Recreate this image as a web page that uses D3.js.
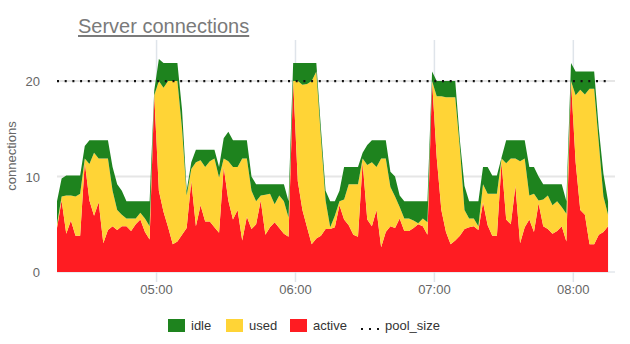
<!DOCTYPE html>
<html><head><meta charset="utf-8">
<script src="https://cdn.jsdelivr.net/npm/d3@7"></script>
<style>body{margin:0;background:#fff}svg{display:block}</style>
</head><body><svg id="c" width="630" height="344"></svg>
<script>
// ---- data ----
const startTime = "04:17";
const stepMinutes = 2;
const xDomain = ["04:17", "08:18"];
const active = [4.6,7.5,4.0,5.4,3.8,3.8,11.5,7.5,5.9,7.3,3.0,4.4,4.8,4.4,4.8,4.8,4.3,5.0,5.5,4.2,
  3.4,18.5,8.5,6.3,4.7,2.9,3.2,3.9,4.6,9.5,4.8,7.0,5.3,5.3,4.7,4.1,11.0,7.5,5.5,6.5,
  3.3,5.8,4.5,5.0,7.5,3.9,4.7,5.2,4.6,4.0,3.7,20.0,9.5,6.5,4.7,2.9,3.5,3.8,4.5,4.5,
  4.7,7.0,5.5,4.9,3.9,3.7,11.5,5.5,4.8,6.5,2.6,4.2,4.8,4.6,5.6,4.3,4.3,4.6,5.0,4.8,
  3.9,20.0,12.0,6.5,4.2,2.9,3.3,3.8,4.5,4.7,4.8,4.4,7.3,4.9,3.8,3.8,11.5,5.5,5.0,9.0,
  3.0,4.7,5.5,4.2,7.2,4.8,4.5,4.0,4.3,4.8,3.2,20.0,11.5,6.5,6.0,2.9,2.9,3.9,4.2,4.8];
const used = [0.4,0.4,4.0,2.6,4.1,4.4,0.4,3.8,6.6,4.6,8.9,7.5,3.7,2.1,1.2,0.8,1.3,0.6,0.7,1.4,
  1.4,0.0,11.5,13.0,15.3,17.1,16.8,11.1,3.4,1.3,6.7,4.7,5.7,6.3,7.2,5.8,0.9,4.1,5.5,4.5,
  8.6,6.1,4.0,2.4,0.5,4.2,3.5,1.9,3.4,3.4,2.0,0.0,10.5,13.1,15.0,17.1,17.5,10.2,3.0,0.2,
  1.2,0.4,2.1,4.3,5.3,5.5,0.4,5.7,6.7,4.5,9.3,7.7,4.1,3.3,1.2,1.3,1.3,0.8,0.1,0.8,
  1.3,0.0,6.4,11.9,14.1,15.4,15.0,9.2,2.0,0.9,0.8,0.4,1.9,3.3,4.4,4.4,0.4,5.9,6.9,2.9,
  8.6,7.2,2.5,4.0,0.3,2.8,3.5,3.0,3.1,2.0,2.9,0.0,7.0,12.6,12.6,16.3,16.3,9.6,3.7,1.2];
const idle = [2.4,1.9,2.1,2.1,2.2,1.9,1.3,2.5,1.3,1.9,1.9,1.9,2.5,2.7,2.5,1.8,1.8,1.8,1.2,1.8,
  2.6,0.5,2.3,2.6,1.9,1.9,1.9,2.0,0.5,0.7,1.3,1.1,1.8,1.2,0.9,1.1,2.1,3.1,2.8,2.8,
  1.9,1.9,1.5,1.8,1.2,1.1,1.0,2.1,1.2,1.8,1.7,1.9,1.9,2.3,2.2,1.9,0.9,1.0,1.0,2.7,
  1.5,1.1,3.4,1.8,1.8,1.8,0.6,2.1,2.3,2.8,1.9,1.9,1.6,2.1,1.2,1.8,1.8,2.0,2.3,1.8,
  2.2,1.0,1.6,1.6,1.7,1.7,1.7,0.8,2.5,1.8,1.8,2.6,1.8,2.8,1.9,1.9,0.1,2.4,1.9,1.9,
  2.2,1.9,3.0,2.8,2.5,1.6,1.2,2.2,1.8,2.4,1.3,1.9,2.5,1.9,2.4,1.8,1.8,1.5,2.4,1.4];
const poolSize = 20;
const yTicks = [0, 10, 20];
const xTicks = ["05:00", "06:00", "07:00", "08:00"];
const seriesKeys = ["active", "used", "idle"];
const legendItems = ["idle", "used", "active", "pool_size"];
const colors = {idle: "#1e831e", used: "#ffd436", active: "#ff1c22"};

// ---- chart ----
const svg = d3.select("#c");
const M = {left: 57, right: 615, top: 40, bottom: 272};
const parse = d3.timeParse("%H:%M");
const t0 = parse(startTime);
const rows = active.map((a, i) => ({
  time: d3.timeMinute.offset(t0, i * stepMinutes),
  active: a, used: used[i], idle: idle[i]
}));

const x = d3.scaleTime().domain(xDomain.map(parse)).range([M.left, M.right]);
const y = d3.scaleLinear().domain([0, 24.3]).range([M.bottom, M.top]);

// title
const title = svg.append("text").attr("x", 78).attr("y", 33)
  .attr("font-family", "Liberation Sans, Arial, sans-serif").attr("font-size", 20)
  .attr("fill", "#7a7a7a").text("Server connections");
const tw = title.node().getComputedTextLength();
svg.append("rect").attr("x", 78).attr("y", 35).attr("width", tw).attr("height", 2).attr("fill", "#7a7a7a");

// grid
const grid = svg.append("g");
grid.selectAll("line.h").data(yTicks).join("line")
  .attr("x1", M.left).attr("x2", M.right)
  .attr("y1", d => y(d)).attr("y2", d => y(d))
  .attr("stroke", d => d === 0 ? "#d5dbe2" : "#e6e6e6").attr("stroke-width", d => d === 0 ? 1 : 2);
grid.selectAll("line.v").data(xTicks.map(parse)).join("line")
  .attr("x1", d => x(d)).attr("x2", d => x(d))
  .attr("y1", M.top).attr("y2", M.bottom + 10)
  .attr("stroke", "#dfe4ea").attr("stroke-width", 1.5);

// stacked areas
const stack = d3.stack().keys(seriesKeys)(rows);
const area = d3.area().x(d => x(d.data.time)).y0(d => y(d[0])).y1(d => y(d[1]));
svg.append("g").selectAll("path").data(stack).join("path")
  .attr("d", area).attr("fill", d => colors[d.key]);

// pool size line
const line = d3.line().x(d => x(d.time)).y(() => y(poolSize));
svg.append("path").datum(rows).attr("d", line)
  .attr("fill", "none").attr("stroke", "#111").attr("stroke-width", 2.2)
  .attr("stroke-dasharray", "2,5.7");

// axes labels
const fontAx = "Liberation Sans, Arial, sans-serif";
svg.append("g").selectAll("text").data(yTicks).join("text")
  .attr("x", 40).attr("y", d => y(d) + 5).attr("text-anchor", "end")
  .attr("font-family", fontAx).attr("font-size", 13).attr("fill", "#666")
  .text(d => d);
svg.append("g").selectAll("text").data(xTicks).join("text")
  .attr("x", d => x(parse(d))).attr("y", 294).attr("text-anchor", "middle")
  .attr("font-family", fontAx).attr("font-size", 13).attr("fill", "#666")
  .text(d => d);
svg.append("text").attr("transform", "translate(16,156) rotate(-90)")
  .attr("text-anchor", "middle").attr("font-family", fontAx).attr("font-size", 13)
  .attr("fill", "#666").text("connections");

// legend
const lg = svg.append("g").attr("font-family", fontAx).attr("font-size", 13).attr("fill", "#333");
const legendX = {idle: 168, used: 226, active: 290, pool_size: 361};
legendItems.forEach(k => {
  const gx = legendX[k];
  if (k === "pool_size") {
    lg.append("line").attr("x1", gx).attr("x2", gx + 18).attr("y1", 329).attr("y2", 329)
      .attr("stroke", "#111").attr("stroke-width", 2).attr("stroke-dasharray", "2,6");
    lg.append("text").attr("x", gx + 24).attr("y", 330).text(k);
  } else {
    lg.append("rect").attr("x", gx).attr("y", 319).attr("width", 17).attr("height", 13).attr("fill", colors[k]);
    lg.append("text").attr("x", gx + 23).attr("y", 330).text(k);
  }
});
</script></body></html>
